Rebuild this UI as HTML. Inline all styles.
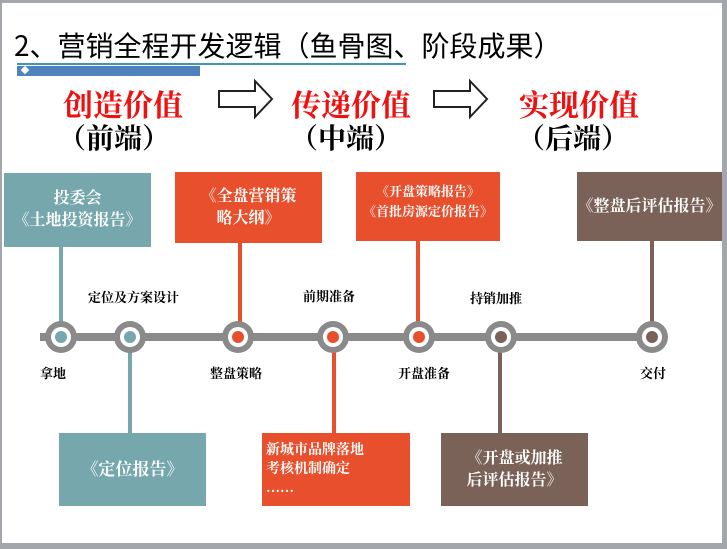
<!DOCTYPE html>
<html><head><meta charset="utf-8"><style>
body{margin:0;width:727px;height:549px;background:#a3a7ab;position:relative;overflow:hidden;font-family:"Liberation Serif","Noto Serif CJK SC",serif}
.s{position:absolute;left:2px;top:3px;width:720px;height:540px;background:#fff}
.a{position:absolute}
.t{white-space:nowrap}
.box{position:absolute;color:#fff;font-weight:bold;font-size:15px;line-height:22px;display:flex;align-items:center;justify-content:center;text-align:center;white-space:nowrap}
.lab{position:absolute;font-size:13px;font-weight:bold;white-space:nowrap}
</style></head><body>
<div class="s"></div>
<div class="a t" style="left:14px;top:28px;font-size:28px;line-height:34px;font-family:'Noto Sans CJK SC',sans-serif;">2、营销全程开发逻辑（鱼骨图、阶段成果）</div>
<div class="a" style="left:17px;top:63px;width:389px;height:2px;background:#3a9ab0"></div>
<div class="a" style="left:17px;top:66px;width:183px;height:10px;background:#4f81bd"></div>
<div class="a" style="left:22px;top:67px;width:6px;height:6px;background:#fff;transform:rotate(45deg)"></div>
<div class="a t" style="left:63px;top:81px;font-size:30px;color:#f01010;font-weight:bold">创造价值</div>
<div class="a t" style="left:291px;top:81px;font-size:30px;color:#f01010;font-weight:bold">传递价值</div>
<div class="a t" style="left:519px;top:81px;font-size:30px;color:#f01010;font-weight:bold">实现价值</div>
<div class="a t" style="left:58px;top:117px;font-size:28px;font-weight:bold">（前端）</div>
<div class="a t" style="left:290px;top:117px;font-size:28px;font-weight:bold">（中端）</div>
<div class="a t" style="left:517px;top:117px;font-size:28px;font-weight:bold">（后端）</div>
<svg class="a" style="left:0;top:0" width="727" height="549">
<polygon points="219,91 255,91 255,81 272,99 255,117 255,107 219,107" fill="#fff" stroke="#222" stroke-width="2"/>
<polygon points="434,91 470,91 470,81 487,99 470,117 470,107 434,107" fill="#fff" stroke="#222" stroke-width="2"/>
<rect x="40" y="333" width="620" height="8" fill="#8a8a8a"/>
<g stroke-width="4">
<line x1="61" y1="245" x2="61" y2="337" stroke="#75a7ad"/>
<line x1="130" y1="337" x2="130" y2="435" stroke="#75a7ad"/>
<line x1="240" y1="241" x2="240" y2="337" stroke="#e8502d"/>
<line x1="334" y1="337" x2="334" y2="435" stroke="#e8502d"/>
<line x1="418" y1="240" x2="418" y2="337" stroke="#e8502d"/>
<line x1="500" y1="337" x2="500" y2="435" stroke="#7b6258"/>
<line x1="652" y1="240" x2="652" y2="337" stroke="#7b6258"/>
</g>
<g>
<circle cx="61" cy="337" r="16" fill="#8a8a8a"/><circle cx="61" cy="337" r="10" fill="#fff"/><circle cx="61" cy="337" r="6" fill="#75a7ad"/>
<circle cx="130" cy="337" r="16" fill="#8a8a8a"/><circle cx="130" cy="337" r="10" fill="#fff"/><circle cx="130" cy="337" r="6" fill="#75a7ad"/>
<circle cx="238" cy="337" r="16" fill="#8a8a8a"/><circle cx="238" cy="337" r="10" fill="#fff"/><circle cx="238" cy="337" r="6" fill="#e8502d"/>
<circle cx="333" cy="337" r="16" fill="#8a8a8a"/><circle cx="333" cy="337" r="10" fill="#fff"/><circle cx="333" cy="337" r="6" fill="#e8502d"/>
<circle cx="419" cy="337" r="16" fill="#8a8a8a"/><circle cx="419" cy="337" r="10" fill="#fff"/><circle cx="419" cy="337" r="6" fill="#e8502d"/>
<circle cx="501" cy="337" r="16" fill="#8a8a8a"/><circle cx="501" cy="337" r="10" fill="#fff"/><circle cx="501" cy="337" r="6" fill="#7b6258"/>
<circle cx="652" cy="337" r="16" fill="#8a8a8a"/><circle cx="652" cy="337" r="10" fill="#fff"/><circle cx="652" cy="337" r="6" fill="#7b6258"/>
</g>
</svg>
<div class="box" style="left:4px;top:173px;width:147px;height:74px;background:#75a7ad;font-size:16px">投委会<br>《土地投资报告》</div>
<div class="box" style="left:175px;top:172px;width:147px;height:71px;background:#e8502d;font-size:16px">《全盘营销策<br>略大纲》</div>
<div class="box" style="left:356px;top:172px;width:144px;height:69px;background:#e8502d;font-size:13px;line-height:20px;align-items:flex-start;padding-top:10px;box-sizing:border-box">《开盘策略报告》<br>《首批房源定价报告》</div>
<div class="box" style="left:577px;top:172px;width:145px;height:69px;background:#7b6258;font-size:16px">《整盘后评估报告》</div>
<div class="box" style="left:59px;top:433px;width:147px;height:73px;background:#75a7ad;font-size:17px">《定位报告》</div>
<div class="box" style="left:262px;top:433px;width:148px;height:73px;background:#e8502d;font-size:14px;line-height:19px;justify-content:flex-start;text-align:left;padding-left:4px;box-sizing:border-box">新城市品牌落地<br>考核机制确定<br>……</div>
<div class="box" style="left:441px;top:433px;width:147px;height:73px;background:#7b6258;font-size:16px">《开盘或加推<br>后评估报告》</div>
<div class="lab" style="left:88px;top:287px">定位及方案设计</div>
<div class="lab" style="left:303px;top:286px">前期准备</div>
<div class="lab" style="left:470px;top:288px">持销加推</div>
<div class="lab" style="left:40px;top:363px">拿地</div>
<div class="lab" style="left:210px;top:363px">整盘策略</div>
<div class="lab" style="left:398px;top:363px">开盘准备</div>
<div class="lab" style="left:640px;top:363px">交付</div>
</body></html>
